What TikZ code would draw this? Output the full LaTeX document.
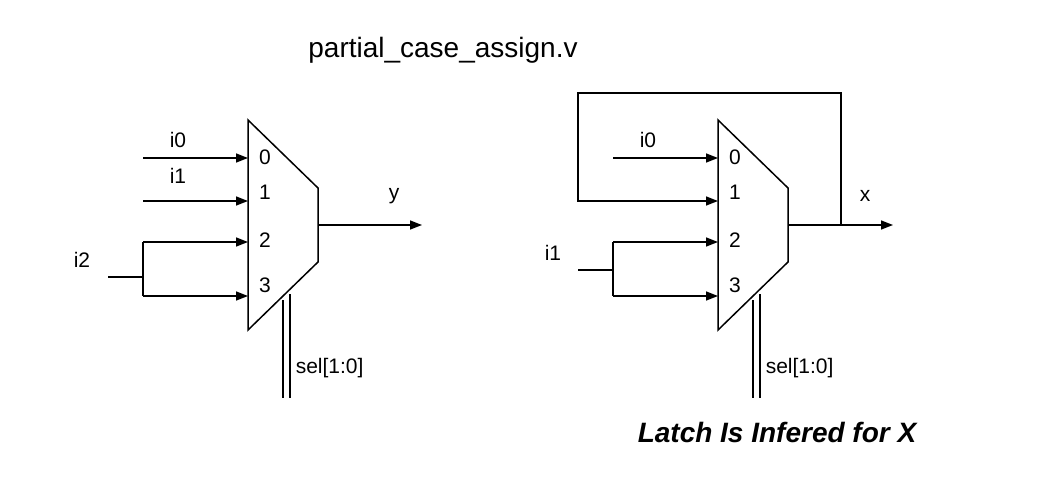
\documentclass[tikz,border=0pt]{standalone}
\usepackage{fontspec}
\setmainfont{Liberation Sans}
\usetikzlibrary{arrows.meta}
\begin{document}
\begin{tikzpicture}[x=1pt,y=-1pt,line width=1.5pt,line join=miter,
  arr/.style={-{Triangle[length=12pt,width=9pt]}},
  lbl/.style={font=\fontsize{21}{24}\selectfont,inner sep=0pt}]
\useasboundingbox (0,0) rectangle (1047,495);
\node[font=\fontsize{28}{32}\selectfont] (title) at (443,50) {partial\_case\_assign.v};
\node[font=\fontsize{28}{32}\selectfont\bfseries\itshape] (cap) at (777,432) {Latch Is Infered for X};
\foreach \o/\n in {0/L,470/R}{
  \begin{scope}[xshift=\o pt]
  \draw (248,120) -- (318,188) -- (318,262) -- (248,330) -- cycle;
  \node[lbl] at (265,157) {0};
  \node[lbl] at (265,192) {1};
  \node[lbl] at (265,240) {2};
  \node[lbl] at (265,285) {3};
  \coordinate (\n in0) at (248,158);
  \coordinate (\n in1) at (248,201);
  \coordinate (\n in2) at (248,242);
  \coordinate (\n in3) at (248,296);
  \coordinate (\n out) at (318,225);
  \draw[line width=1.2pt] (283,300) -- (283,398) (290,294) -- (290,398);
  \node[lbl,anchor=west] at (295,368) {sel[1:0]};
  \coordinate (\n b) at (143,242);
  \coordinate (\n c) at (143,296);
  \draw (\n b) -- (\n c);
  \draw[arr] (\n b) -- (\n in2);
  \draw[arr] (\n c) -- (\n in3);
  \draw[arr] (143,158) -- (\n in0);
  \node[lbl] at (178,140) {i0};
  \end{scope}
}
\draw[arr] (143,201) -- (Lin1);
\node[lbl] at (178,176) {i1};
\draw (108,277) -- (143,277);
\node[lbl] at (82,260) {i2};
\draw[arr] (Lout) -- (422,225);
\node[lbl] at (394,196) {y};
\draw (578,270) -- (613,270);
\node[lbl] at (553,253) {i1};
\draw[arr] (Rout) -- (893,225);
\node[lbl] at (865,196) {x};
\draw[arr] (841,225) -- (841,93) -- (578,93) -- (578,201) -- (Rin1);
\end{tikzpicture}
\end{document}
